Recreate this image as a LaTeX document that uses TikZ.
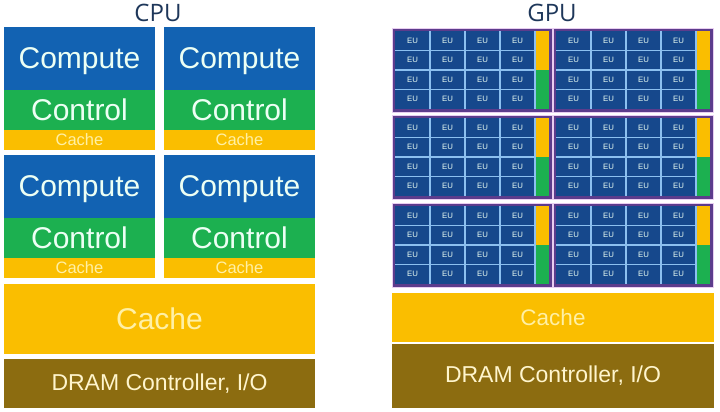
\documentclass[tikz,border=0pt]{standalone}
\usepackage{fontspec}
\setmainfont{Liberation Sans}
\newfontfamily\titlefont{Open Sans}
\usepackage{xcolor}

% Colours of the two chips
\definecolor{computeblue}{RGB}{18,98,178}
\definecolor{ctrlgreen}{RGB}{28,176,80}
\definecolor{cacheyellow}{RGB}{250,190,0}
\definecolor{dramolive}{RGB}{140,108,16}
\definecolor{paletext}{RGB}{236,255,244}
\definecolor{cachetext}{RGB}{255,240,165}
\definecolor{dramtext}{RGB}{255,245,205}
\definecolor{titlenavy}{RGB}{30,55,90}
\definecolor{eublue}{RGB}{22,72,140}
\definecolor{gridblue}{RGB}{140,192,240}
\definecolor{panelpurple}{RGB}{92,60,140}
\definecolor{panelrim}{RGB}{232,205,240}

\tikzset{
  block/.style={rectangle, inner sep=0pt, outer sep=0pt, anchor=north west},
  computebox/.style={block, fill=computeblue, text=paletext, text depth=0pt,
    font=\fontsize{30}{36}\selectfont, minimum width=151pt, minimum height=63pt},
  ctrlbox/.style={block, fill=ctrlgreen, text=paletext,
    font=\fontsize{30}{36}\selectfont, minimum width=151pt, minimum height=40pt},
  smallcache/.style={block, fill=cacheyellow, text=cachetext,
    font=\fontsize{16.5}{20}\selectfont, minimum width=151pt, minimum height=20pt},
  bigcache/.style={block, fill=cacheyellow, text=cachetext},
  drambox/.style={block, fill=dramolive, text=dramtext,
    font=\fontsize{23}{28}\selectfont},
  chiptitle/.style={text=titlenavy, font=\titlefont\fontsize{24}{28}\selectfont},
  eulabel/.style={text=paletext, font=\fontsize{7.8}{9}\selectfont, inner sep=0pt},
  panelframe/.style={fill=panelpurple, draw=panelrim, line width=0.8pt},
}

\begin{document}
\begin{tikzpicture}[x=1pt, y=-1pt, line join=round]

    % Page and margins
    \fill[white] (0,0) rectangle (720,412);
    \useasboundingbox (0,0) rectangle (720,412);

    % ==========================================
    % CPU
    % ==========================================
    \node[chiptitle] (cputitle) at (158,13) {CPU};

    % Four cores: compute, control and a small cache each
    \foreach \cx/\cy/\k in {4/27/a, 164/27/b, 4/155/c, 164/155/d} {
        \node[computebox] (comp-\k) at (\cx,\cy) {Compute};
        \node[ctrlbox] (ctrl-\k) at (comp-\k.south west) {Control};
        \node[smallcache] (ccache-\k) at (ctrl-\k.south west) {Cache};
    }

    % Shared cache and memory controller
    \node[bigcache, font=\fontsize{30}{36}\selectfont,
          minimum width=311pt, minimum height=70pt] (cpucache) at (4,284) {Cache};
    \node[drambox, minimum width=311pt, minimum height=49pt] (cpudram) at (4,359)
        {DRAM Controller, I/O};

    % ==========================================
    % GPU
    % ==========================================
    \node[chiptitle] (gputitle) at (552,13) {GPU};

    % Six panels of 4x4 EUs with a cache / control strip on the right
    \foreach \px/\py/\p in {392/28/1, 553/28/2, 392/115/3, 553/115/4, 392/203/5, 553/203/6} {
        \draw[panelframe] (\px,\py) rectangle ++(160,84);
        \fill[eublue] (\px+3,\py+3) rectangle ++(140,78);
        \fill[cacheyellow] (\px+143,\py+3) rectangle ++(14,39);
        \fill[ctrlgreen] (\px+143,\py+42) rectangle ++(14,39);
        \foreach \i in {1,2,3,4}
            \draw[gridblue, line width=1.2pt] (\px+3+35*\i,\py+3) -- ++(0,78);
        \foreach \j in {1,2,3}
            \draw[gridblue, line width=1.2pt] (\px+3,\py+3+19.5*\j) -- ++(140,0);
        \foreach \r in {1,2,3,4}
            \foreach \c in {1,2,3,4}
                \node[eulabel] (eu\p-\r-\c) at (\px+3+35*\c-17.5,\py+3+19.5*\r-9.75) {EU};
    }

    % Shared cache and memory controller
    \node[bigcache, font=\fontsize{22.5}{27}\selectfont,
          minimum width=322pt, minimum height=49pt] (gpucache) at (392,293) {Cache};
    \node[drambox, minimum width=322pt, minimum height=64pt] (gpudram) at (392,344)
        {DRAM Controller, I/O};

\end{tikzpicture}
\end{document}
